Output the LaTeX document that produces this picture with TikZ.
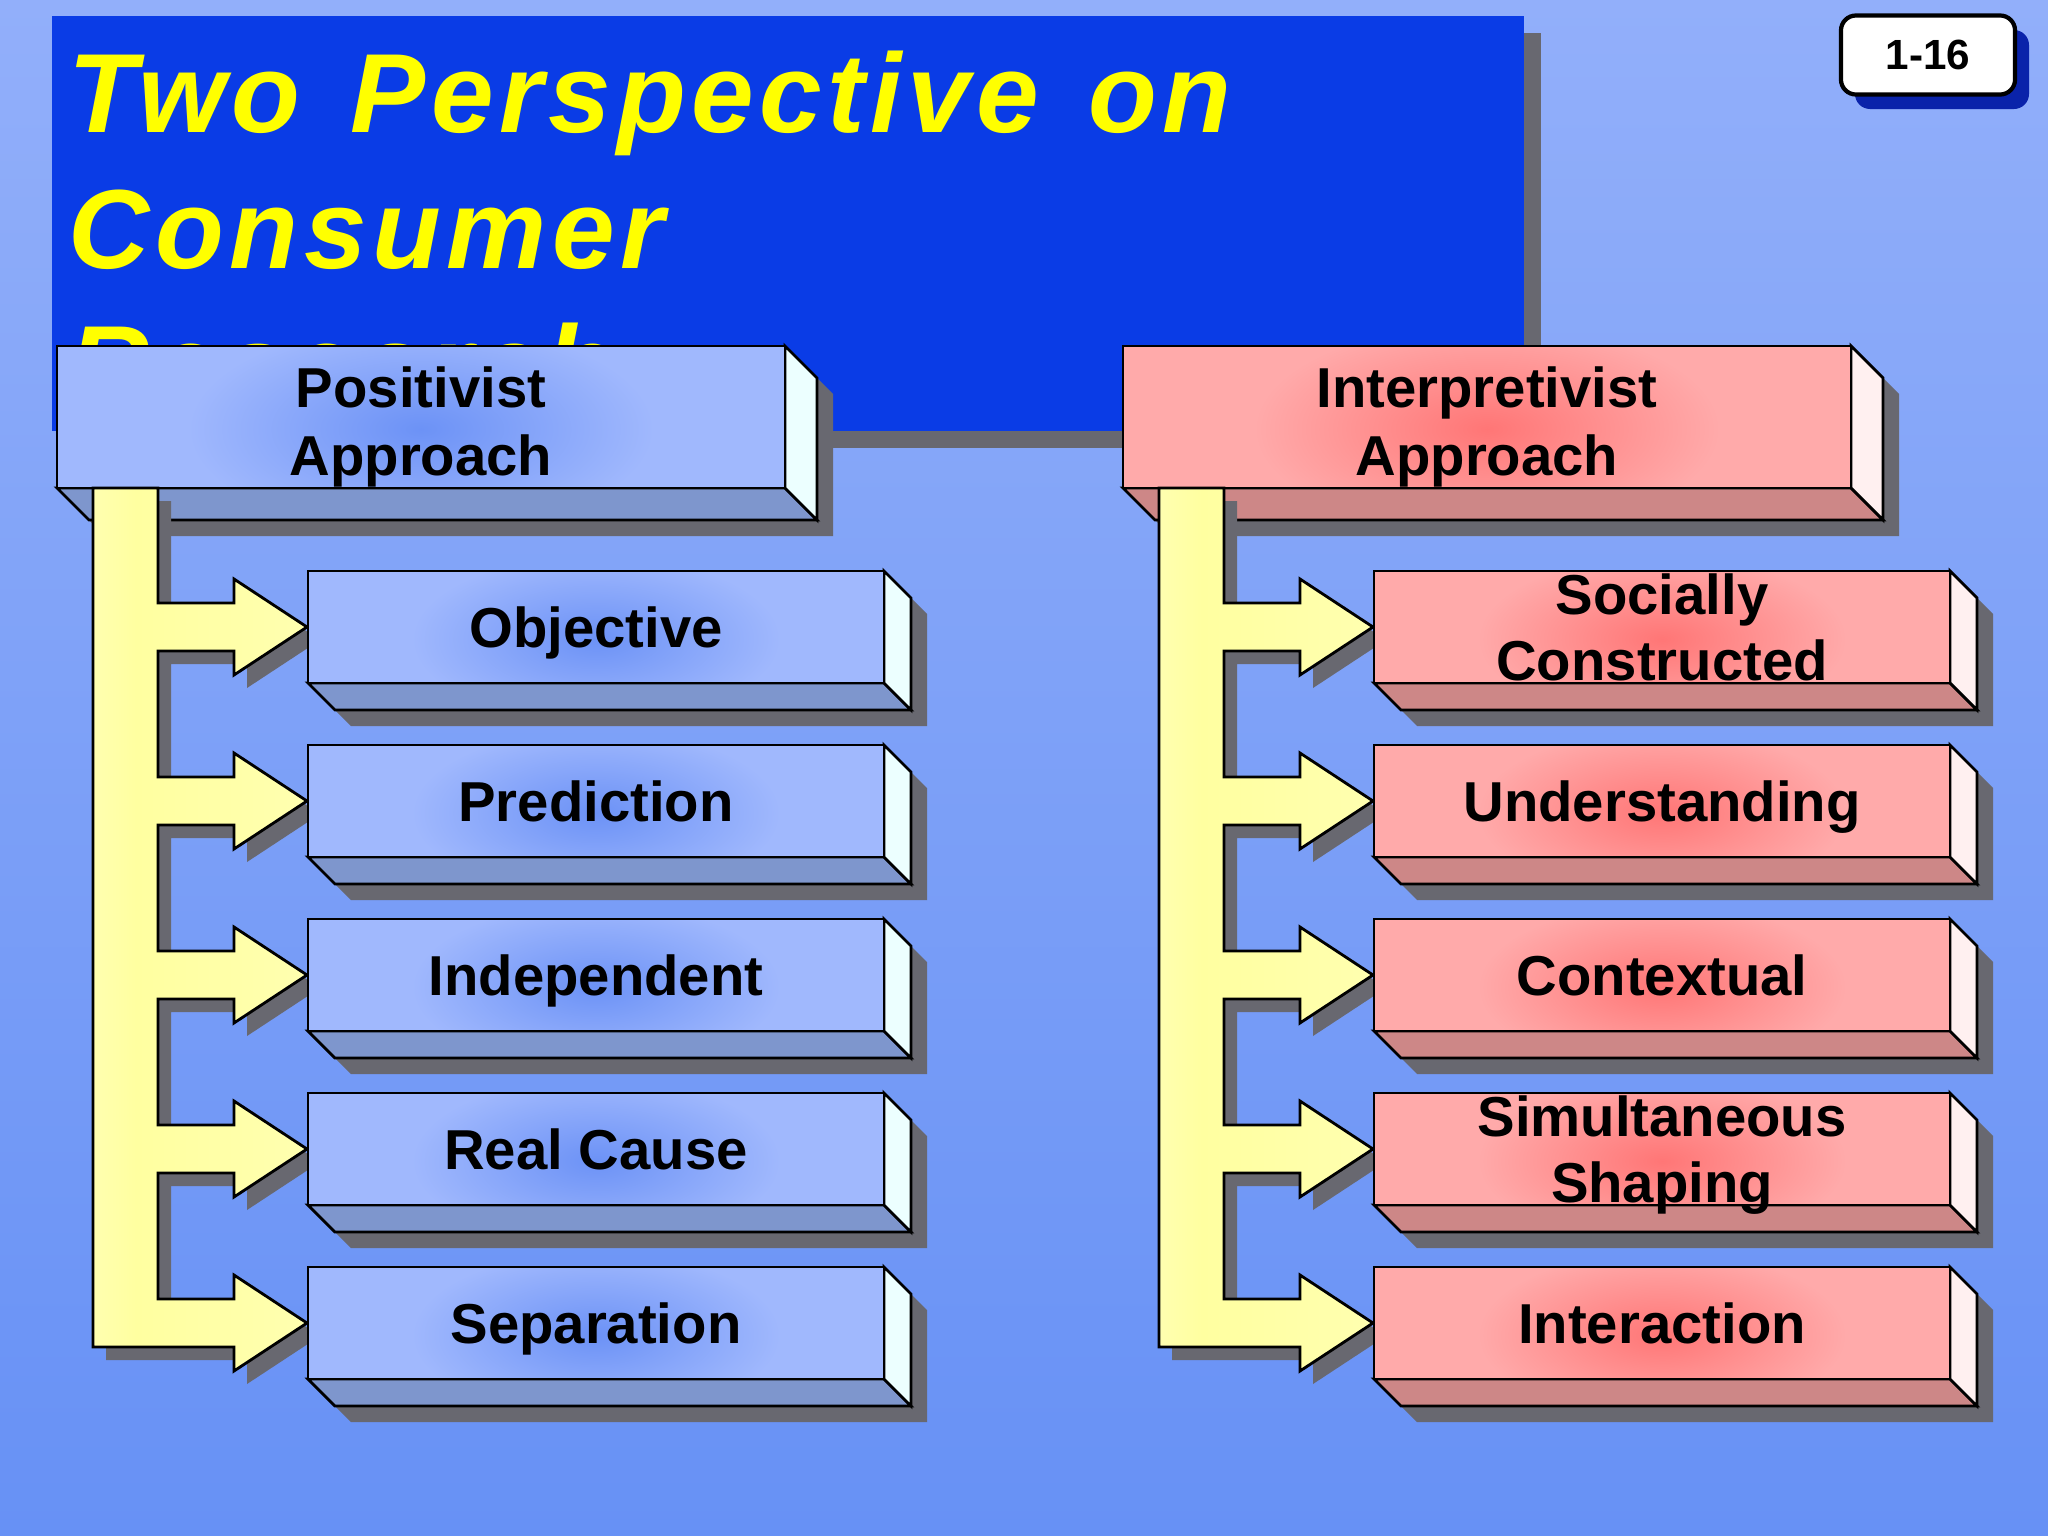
\documentclass[tikz,border=0pt]{standalone}
\usepackage{fontspec}
\setmainfont{Liberation Sans}
\newfontfamily\titlefont[LetterSpace=5,WordSpace=1.35]{Liberation Sans}
\definecolor{bgtop}{RGB}{146,175,250}
\definecolor{bgbot}{RGB}{103,145,245}
\definecolor{titleblue}{RGB}{10,60,230}
\definecolor{shadowgray}{RGB}{104,104,112}
\definecolor{ttlyellow}{RGB}{255,255,0}
\definecolor{numshadow}{RGB}{10,35,170}
\definecolor{blul}{RGB}{204,216,255}
\definecolor{blur}{RGB}{186,203,255}
\definecolor{blum}{RGB}{160,184,253}
\definecolor{blud}{RGB}{108,146,246}
\definecolor{blubot}{RGB}{126,150,205}
\definecolor{bluside}{RGB}{236,255,255}
\definecolor{redl}{RGB}{255,208,208}
\definecolor{redr}{RGB}{255,192,192}
\definecolor{redm}{RGB}{255,170,170}
\definecolor{redd}{RGB}{255,118,118}
\definecolor{redbot}{RGB}{205,135,135}
\definecolor{redside}{RGB}{255,240,240}
\definecolor{yla}{RGB}{255,255,215}
\definecolor{ylb}{RGB}{255,255,160}
\definecolor{ylc}{RGB}{255,255,185}
\pgfdeclarehorizontalshading{blufront}{100bp}{color(0bp)=(blul); color(22bp)=(blum); color(78bp)=(blum); color(100bp)=(blur)}
\pgfdeclarehorizontalshading{redfront}{100bp}{color(0bp)=(redl); color(22bp)=(redm); color(78bp)=(redm); color(100bp)=(redr)}
\pgfdeclareradialshading{bluspot}{\pgfpoint{0bp}{0bp}}{color(0bp)=(blud); color(25bp)=(blum); color(50bp)=(blum)}
\pgfdeclareradialshading{redspot}{\pgfpoint{0bp}{0bp}}{color(0bp)=(redd); color(25bp)=(redm); color(50bp)=(redm)}
\pgfdeclarehorizontalshading{yellowbar}{100bp}{color(0bp)=(yla); color(35bp)=(ylb); color(100bp)=(ylc)}
% 3D box: x0 y0 x1 y1 depth colourprefix
\newcommand{\solidbox}[6]{%
  \fill[shadowgray] ({#1+16},{#2+16}) -- ({#3+16},{#2+16}) -- ({#3+#5+16},{#2+#5+16}) -- ({#3+#5+16},{#4+#5+16}) -- ({#1+#5+16},{#4+#5+16}) -- ({#1+16},{#4+16}) -- cycle;
  \filldraw[boxline, fill=#6bot] ({#1},{#4}) -- ({#3},{#4}) -- ({#3+#5},{#4+#5}) -- ({#1+#5},{#4+#5}) -- cycle;
  \filldraw[boxline, fill=#6side] ({#3},{#2}) -- ({#3+#5},{#2+#5}) -- ({#3+#5},{#4+#5}) -- ({#3},{#4}) -- cycle;
  \shade[shading=#6front] ({#1},{#2}) rectangle ({#3},{#4});
  \begin{scope}
    \clip ({#1},{#2}) rectangle ({#3},{#4});
    \shade[shading=#6spot] ({(#1+#3)/2},{(#2+#4)/2+12}) ellipse ({0.32*(#3-#1)} and {0.75*(#4-#2)});
  \end{scope}
  \draw[boxline] ({#1},{#2}) rectangle ({#3},{#4});}
% bracket connector: x offset, path options
\newcommand{\bracket}[2]{%
  \path[#2] ({93+#1},488) -- ({93+#1},1347) -- ({234+#1},1347) -- ({234+#1},1371) -- ({307+#1},1323) -- ({234+#1},1275) -- ({234+#1},1299) -- ({158+#1},1299)
  -- ({158+#1},1173) -- ({234+#1},1173) -- ({234+#1},1197) -- ({307+#1},1149) -- ({234+#1},1101) -- ({234+#1},1125) -- ({158+#1},1125)
  -- ({158+#1},999) -- ({234+#1},999) -- ({234+#1},1023) -- ({307+#1},975) -- ({234+#1},927) -- ({234+#1},951) -- ({158+#1},951)
  -- ({158+#1},825) -- ({234+#1},825) -- ({234+#1},849) -- ({307+#1},801) -- ({234+#1},753) -- ({234+#1},777) -- ({158+#1},777)
  -- ({158+#1},651) -- ({234+#1},651) -- ({234+#1},675) -- ({307+#1},627) -- ({234+#1},579) -- ({234+#1},603) -- ({158+#1},603)
  -- ({158+#1},488) -- cycle;}
\begin{document}
\begin{tikzpicture}[x=0.01cm,y=-0.01cm,
  boxline/.style={draw=black, line width=0.8pt, line join=miter},
  lbl/.style={font=\fontsize{16}{19}\selectfont\bfseries, text=black, inner sep=0pt, anchor=base},
  ttl/.style={font=\titlefont\fontsize{32}{38}\selectfont\bfseries\itshape, text=ttlyellow, inner sep=0pt, anchor=base west}]
\useasboundingbox (0,0) rectangle (2048,1536);
\shade[top color=bgtop, bottom color=bgbot] (0,0) rectangle (2048,1536);
% title
\fill[shadowgray] (69,33) rectangle (1541,448);
\fill[titleblue] (52,16) rectangle (1524,431);
\node[ttl] (t1) at (68,132) {Two Perspective on};
\node[ttl] (t2) at (68,268) {Consumer};
\node[ttl] (t3) at (68,404) {Research};
% slide number
\fill[numshadow, rounded corners=0.15cm] (1855,30) rectangle (2029,109);
\node[draw=black, line width=1.2pt, fill=white, rounded corners=0.15cm, minimum width=1.74cm, minimum height=0.79cm, inner sep=0pt,
      font=\fontsize{12}{14}\selectfont\bfseries] (num) at (1928,55) {1-16};
% headers
\solidbox{57}{346}{785}{488}{32}{blu}
\solidbox{1123}{346}{1851}{488}{32}{red}
\node[lbl] (ph1) at (421,407) {Positivist};
\node[lbl] (ph2) at (421,475) {Approach};
\node[lbl] (ih1) at (1487,407) {Interpretivist};
\node[lbl] (ih2) at (1487,475) {Approach};
% connectors
\bracket{13}{fill=shadowgray, shift={(0,13)}}
\bracket{0}{shading=yellowbar, draw=black, line width=0.8pt}
\bracket{1079}{fill=shadowgray, shift={(0,13)}}
\bracket{1066}{shading=yellowbar, draw=black, line width=0.8pt}
% children
\foreach \t in {571,745,919,1093,1267}{
  \solidbox{308}{\t}{884}{\t+112}{27}{blu}
  \solidbox{1374}{\t}{1950}{\t+112}{27}{red}
}
\node[lbl] (a1) at (596,647) {Objective};
\node[lbl] (a2) at (596,821) {Prediction};
\node[lbl] (a3) at (596,995) {Independent};
\node[lbl] (a4) at (596,1169) {Real Cause};
\node[lbl] (a5) at (596,1343) {Separation};
\node[lbl] (b1a) at (1662,614) {Socially};
\node[lbl] (b1b) at (1662,680) {Constructed};
\node[lbl] (b2) at (1662,821) {Understanding};
\node[lbl] (b3) at (1662,995) {Contextual};
\node[lbl] (b4a) at (1662,1136) {Simultaneous};
\node[lbl] (b4b) at (1662,1202) {Shaping};
\node[lbl] (b5) at (1662,1343) {Interaction};
\end{tikzpicture}
\end{document}
